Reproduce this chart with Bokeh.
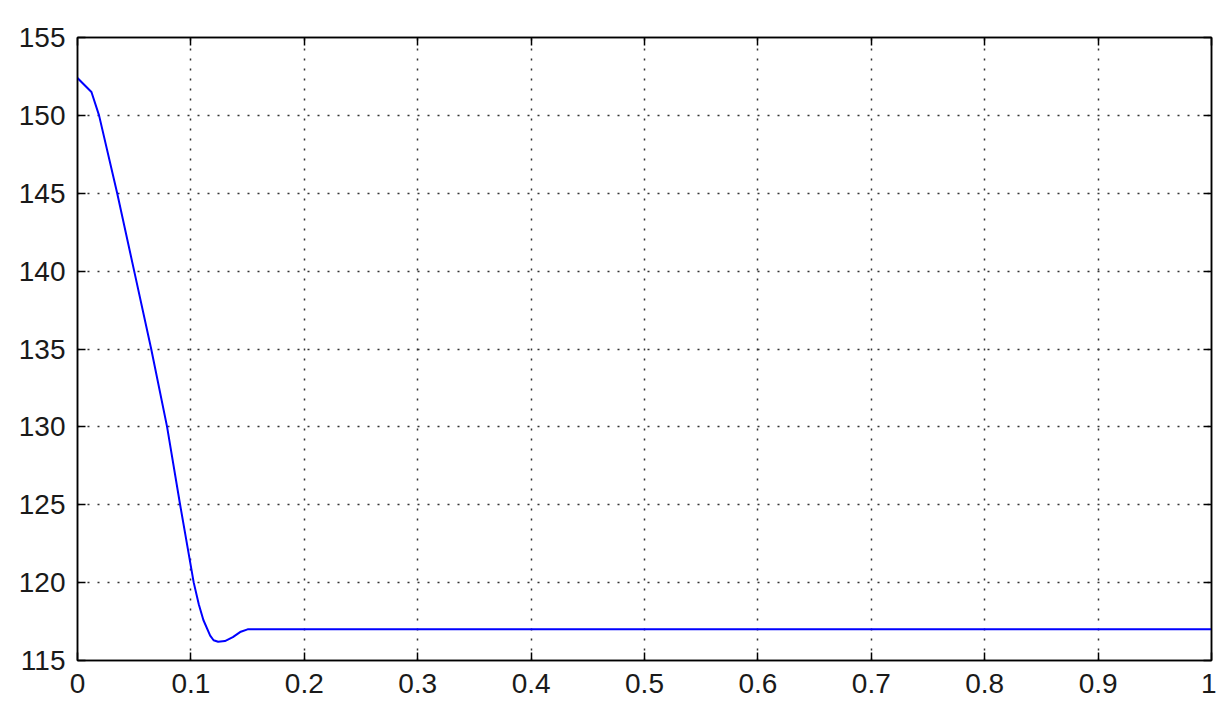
from bokeh.plotting import figure
from bokeh.models import ColumnDataSource, FixedTicker, LinearAxis, Range1d
from bokeh.embed import file_html
from bokeh.resources import INLINE

# values
t = [0.0, 0.0123, 0.019, 0.035, 0.050, 0.065, 0.079, 0.0905, 0.1025,
     0.107, 0.111, 0.117, 0.120, 0.124, 0.130, 0.137, 0.144, 0.150, 1.0]
speed = [152.4, 151.5, 150.0, 145.0, 140.0, 135.0, 130.0, 125.0, 120.0,
         118.6, 117.6, 116.6, 116.3, 116.2, 116.25, 116.5, 116.85, 117.0, 117.0]

x_ticks = [0, 0.1, 0.2, 0.3, 0.4, 0.5, 0.6, 0.7, 0.8, 0.9, 1]
x_tick_labels = ["0", "0.1", "0.2", "0.3", "0.4", "0.5", "0.6", "0.7", "0.8", "0.9", "1"]
y_ticks = [115, 120, 125, 130, 135, 140, 145, 150, 155]

source = ColumnDataSource(data=dict(t=t, speed=speed))

p = figure(width=1216, height=712, output_backend="svg", toolbar_location=None,
           x_range=Range1d(0, 1), y_range=Range1d(115, 155),
           min_border_left=77, min_border_right=5, min_border_top=37, min_border_bottom=52)
p.background_fill_color = "white"
p.border_fill_color = "white"
p.outline_line_color = "black"
p.outline_line_width = 1.5

p.line("t", "speed", source=source, line_color="#0000ff", line_width=2)

label_font = "Liberation Sans"

for ax in p.xaxis:
    ax.ticker = FixedTicker(ticks=x_ticks)
    ax.major_label_overrides = {v: s for v, s in zip(x_ticks, x_tick_labels)}
    ax.major_label_standoff = 13
for ax in p.yaxis:
    ax.ticker = FixedTicker(ticks=y_ticks)
    ax.major_label_standoff = 12

for ax in p.xaxis + p.yaxis:
    ax.major_label_text_font = label_font
    ax.major_label_text_font_size = "28px"
    ax.major_label_text_color = "#1a1a1a"
    ax.major_tick_in = 8
    ax.major_tick_out = 0
    ax.minor_tick_line_color = None
    ax.axis_line_color = "black"
    ax.axis_line_width = 1.5
    ax.major_tick_line_width = 1.5

# matching box axes on top and right, ticks only
top = LinearAxis(ticker=FixedTicker(ticks=x_ticks),
                 major_label_overrides={v: "" for v in x_ticks},
                 major_tick_in=8, major_tick_out=0, minor_tick_line_color=None,
                 axis_line_width=1.5, major_tick_line_width=1.5)
right = LinearAxis(ticker=FixedTicker(ticks=y_ticks),
                   major_label_overrides={v: "" for v in y_ticks},
                   major_tick_in=8, major_tick_out=0, minor_tick_line_color=None,
                   axis_line_width=1.5, major_tick_line_width=1.5)
p.add_layout(top, "above")
p.add_layout(right, "right")

p.xgrid.ticker = FixedTicker(ticks=x_ticks)
p.ygrid.ticker = FixedTicker(ticks=y_ticks)
for g in (p.xgrid, p.ygrid):
    g.grid_line_color = "#333333"
    g.grid_line_dash = "2 8"
    g.grid_line_width = 1.5

open("out.html", "w").write(file_html(p, INLINE))
